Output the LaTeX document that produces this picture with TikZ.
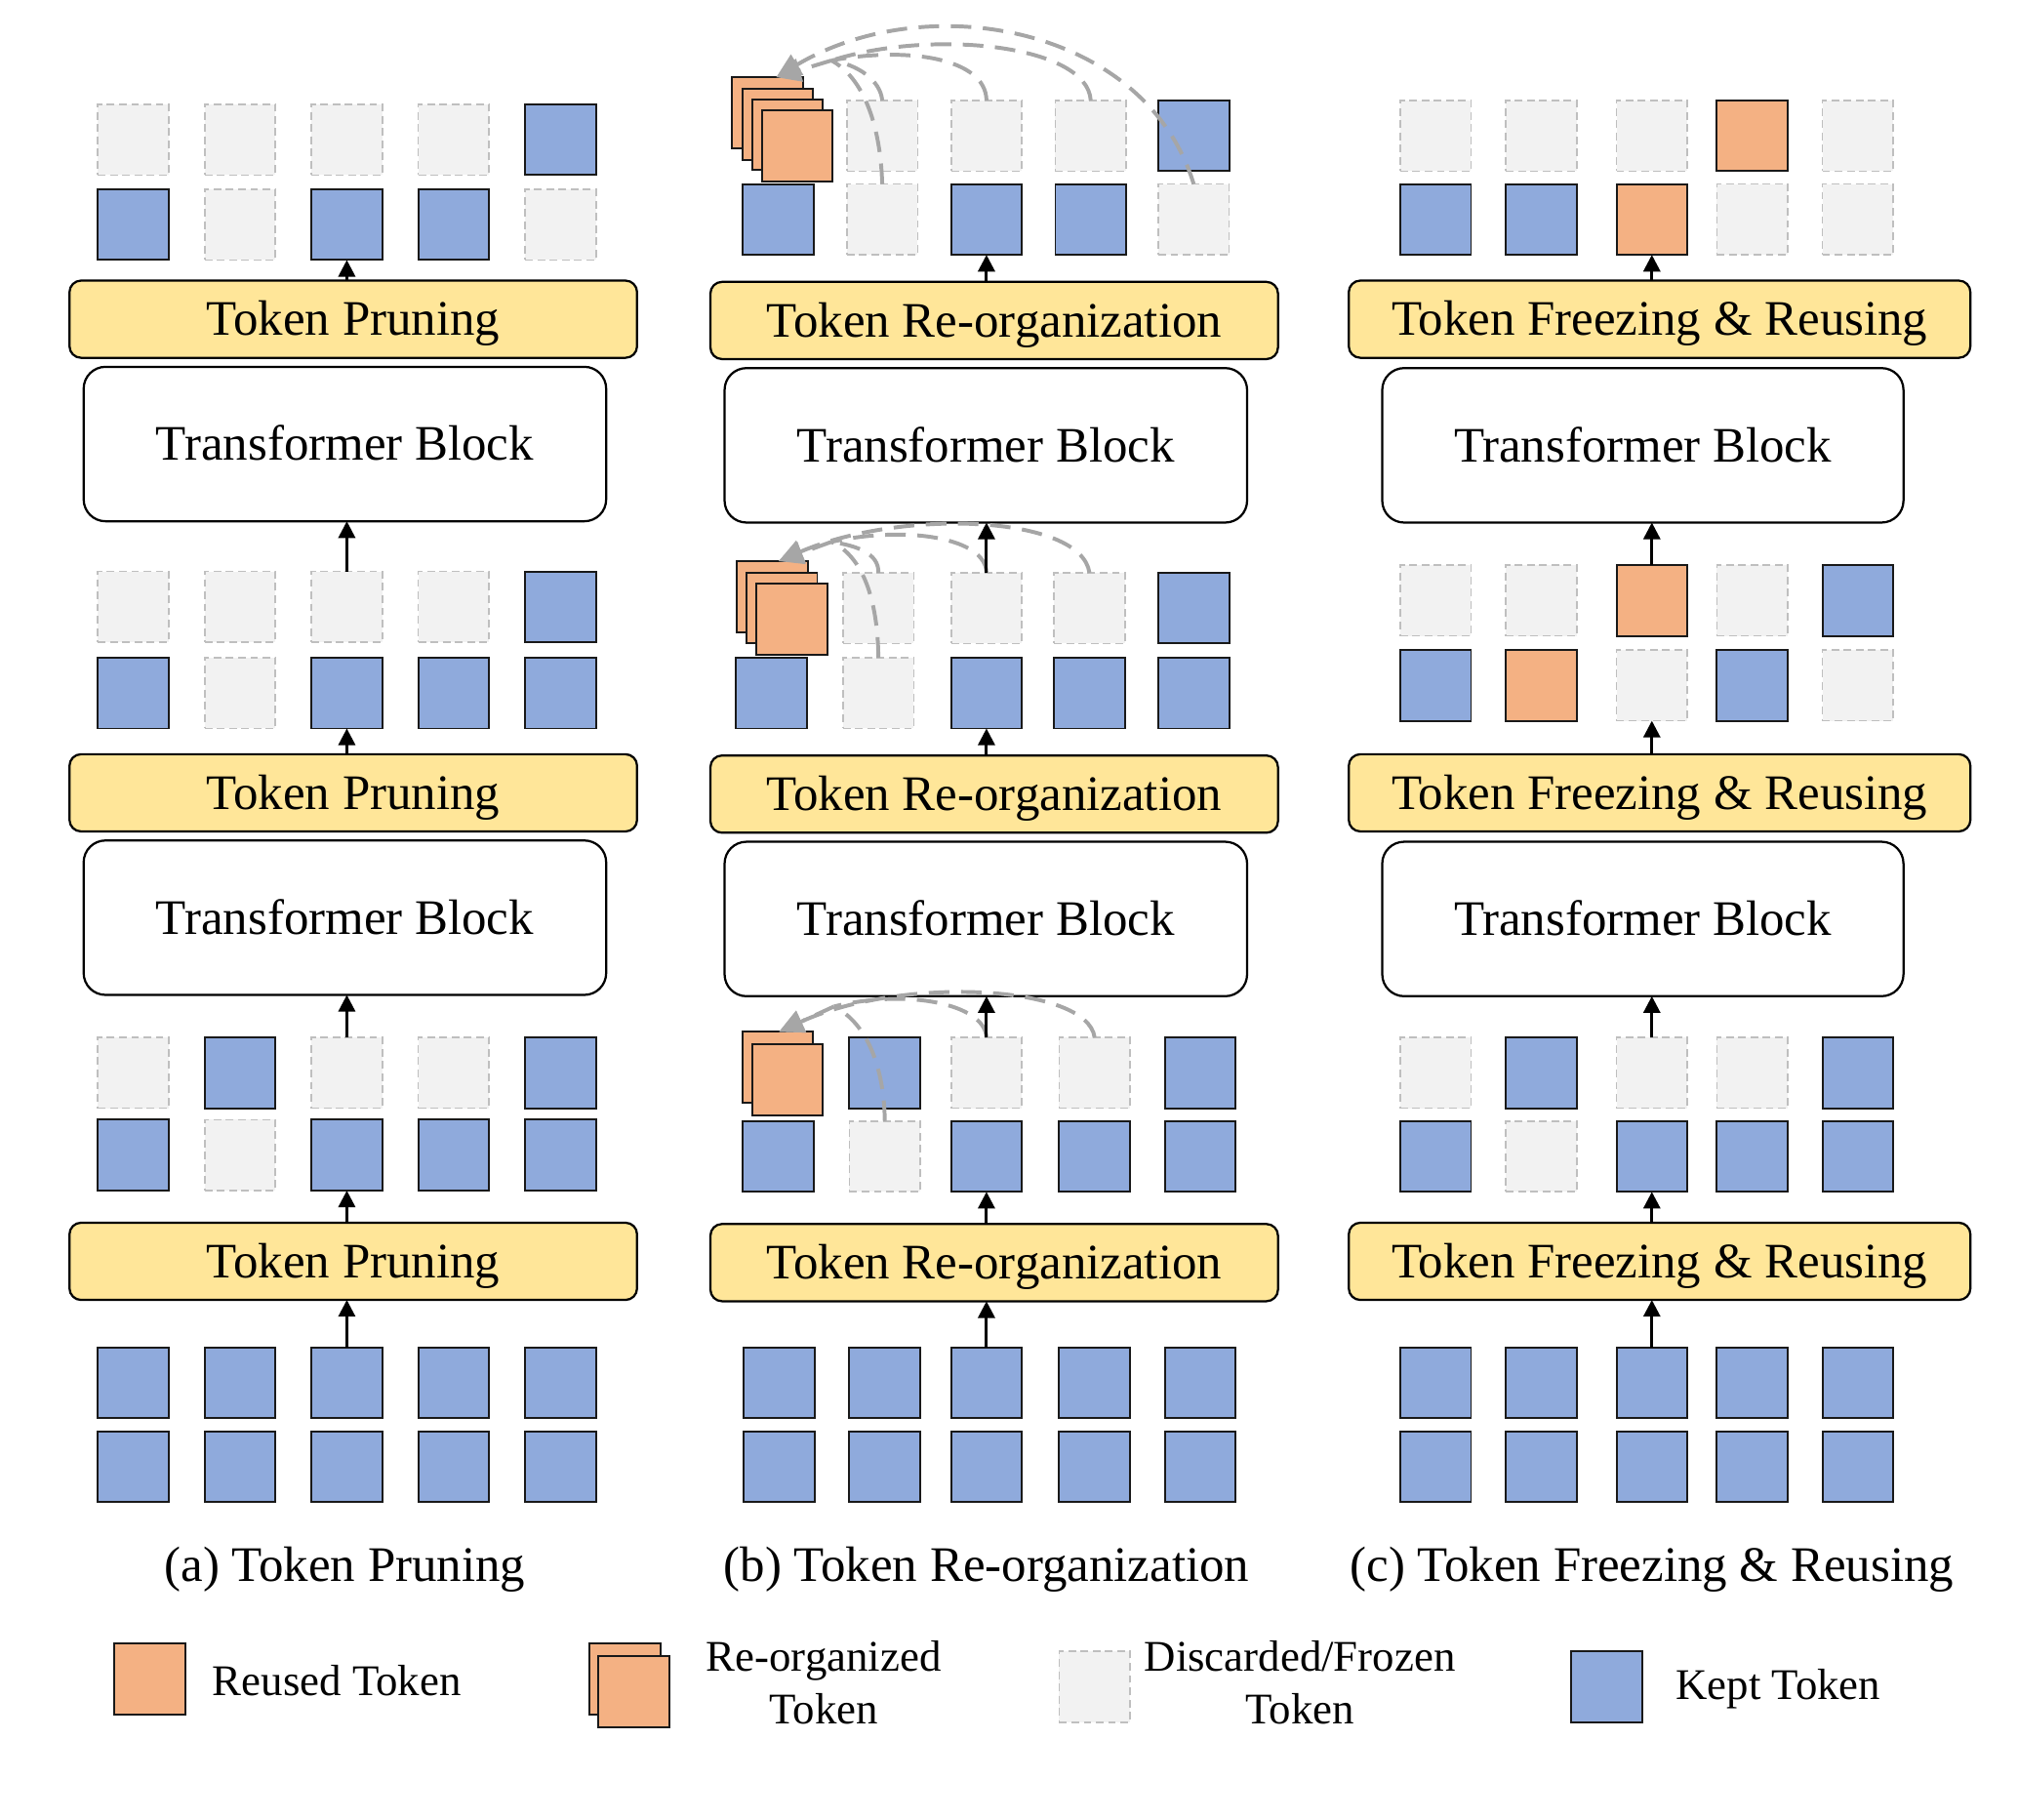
\documentclass[tikz,border=0pt]{standalone}
\usepackage{fontspec}
\setmainfont{Liberation Serif}
\usetikzlibrary{arrows.meta,calc}
\definecolor{kblue}{HTML}{8FAADC}
\definecolor{korange}{HTML}{F4B183}
\definecolor{dfill}{HTML}{F2F2F2}
\definecolor{dline}{HTML}{BFBFBF}
\definecolor{ybox}{HTML}{FFE699}
\definecolor{agray}{HTML}{A6A6A6}
\newcommand{\bigf}{\fontsize{38.6pt}{46pt}\selectfont}
\newcommand{\legf}{\fontsize{34pt}{41pt}\selectfont}
% row of tokens: #1 name prefix, #2 y, #3 list of index/x/style
\newcommand{\tokrow}[3]{%
  \foreach \i/\x/\s in {#3} {%
    \edef\next{\noexpand\node[\s] (#1c\i) at (\x,#2) {};}\next
  }}
\begin{document}
\begin{tikzpicture}[x=1pt,y=-1pt,
  tok/.style={minimum width=55pt,minimum height=55pt,inner sep=0pt,outer sep=0pt,anchor=north west},
  kept/.style={tok,fill=kblue,draw=black!90,line width=1.5pt},
  reuse/.style={tok,fill=korange,draw=black!90,line width=1.5pt},
  dsc/.style={tok,fill=dfill,draw=dline,line width=1.3pt,dash pattern=on 6pt off 3.5pt},
  opbox/.style={anchor=north west,fill=ybox,draw=black,line width=1.7pt,rounded corners=9pt,minimum height=60pt,inner sep=0pt,outer sep=0pt,font=\bigf,text height=25.5pt,text depth=0pt},
  tblock/.style={anchor=north west,fill=white,draw=black,line width=1.7pt,rounded corners=17pt,minimum height=120pt,inner sep=0pt,outer sep=0pt,font=\bigf,text height=25.5pt,text depth=0pt},
  lbl/.style={font=\bigf,inner sep=0pt,text height=25.5pt,text depth=0pt},
  leg/.style={font=\legf,inner sep=0pt,text height=22.5pt,text depth=0pt},
  legtwo/.style={font=\legf,inner sep=0pt,align=center},
  barr/.style={draw=black,line width=2.2pt,-{Triangle[length=13pt,width=13pt]}},
  garr/.style={draw=agray,line width=3pt,dash pattern=on 16pt off 9pt},
  gtip/.style={garr,-{Triangle[length=19pt,width=18pt]}},
]
\useasboundingbox (0,0) rectangle (1568,1413.4);

% ---------------- boxes ----------------
\node[opbox,minimum width=441pt] (aP1) at (54,950) {Token Pruning};
\node[opbox,minimum width=441pt] (aP2) at (54,586) {Token Pruning};
\node[opbox,minimum width=441pt] (aP3) at (54,218) {Token Pruning};
\node[tblock,minimum width=406pt] (aT1) at (65,653) {Transformer Block};
\node[tblock,minimum width=406pt] (aT2) at (65,285) {Transformer Block};

\node[opbox,minimum width=441pt] (bP1) at (552,951) {Token Re-organization};
\node[opbox,minimum width=441pt] (bP2) at (552,587) {Token Re-organization};
\node[opbox,minimum width=441pt] (bP3) at (552,219) {Token Re-organization};
\node[tblock,minimum width=406pt] (bT1) at (563,654) {Transformer Block};
\node[tblock,minimum width=406pt] (bT2) at (563,286) {Transformer Block};

\node[opbox,minimum width=483pt] (cP1) at (1048,950) {Token Freezing \& Reusing};
\node[opbox,minimum width=483pt] (cP2) at (1048,586) {Token Freezing \& Reusing};
\node[opbox,minimum width=483pt] (cP3) at (1048,218) {Token Freezing \& Reusing};
\node[tblock,minimum width=405pt] (cT1) at (1074,654) {Transformer Block};
\node[tblock,minimum width=405pt] (cT2) at (1074,286) {Transformer Block};

% ---------------- column (a) tokens ----------------
\tokrow{a0r1}{1047}{1/76/kept,2/159/kept,3/242/kept,4/325/kept,5/408/kept}
\tokrow{a0r2}{1112}{1/76/kept,2/159/kept,3/242/kept,4/325/kept,5/408/kept}
\tokrow{a1r1}{806}{1/76/dsc,2/159/kept,3/242/dsc,4/325/dsc,5/408/kept}
\tokrow{a1r2}{870}{1/76/kept,2/159/dsc,3/242/kept,4/325/kept,5/408/kept}
\tokrow{a2r1}{444}{1/76/dsc,2/159/dsc,3/242/dsc,4/325/dsc,5/408/kept}
\tokrow{a2r2}{511}{1/76/kept,2/159/dsc,3/242/kept,4/325/kept,5/408/kept}
\tokrow{a3r1}{81}{1/76/dsc,2/159/dsc,3/242/dsc,4/325/dsc,5/408/kept}
\tokrow{a3r2}{147}{1/76/kept,2/159/dsc,3/242/kept,4/325/kept,5/408/dsc}

% ---------------- column (b) tokens ----------------
\tokrow{b0r1}{1047}{1/578/kept,2/660/kept,3/739/kept,4/823/kept,5/905/kept}
\tokrow{b0r2}{1112}{1/578/kept,2/660/kept,3/739/kept,4/823/kept,5/905/kept}
\tokrow{b1r1}{806}{2/660/kept,3/739/dsc,4/823/dsc,5/905/kept}
\tokrow{b1r2}{871}{1/577/kept,2/660/dsc,3/739/kept,4/823/kept,5/905/kept}
\tokrow{b2r1}{445}{2/655/dsc,3/739/dsc,4/819/dsc,5/900/kept}
\tokrow{b2r2}{511}{1/572/kept,2/655/dsc,3/739/kept,4/819/kept,5/900/kept}
\tokrow{b3r1}{78}{2/658/dsc,3/739/dsc,4/820/dsc,5/900/kept}
\tokrow{b3r2}{143}{1/577/kept,2/658/dsc,3/739/kept,4/820/kept,5/900/dsc}
% stacks of re-organized tokens
\node[reuse] (b1s1) at (576.7,801.7) {};
\node[reuse] (b1s2) at (584.3,811.3) {};
\node[reuse] (b2s1) at (572.5,436) {};
\node[reuse] (b2s2) at (580,445) {};
\node[reuse] (b2s3) at (587.6,453.6) {};
\node[reuse] (b3s1) at (569,60) {};
\node[reuse] (b3s2) at (576.7,69) {};
\node[reuse] (b3s3) at (584.3,77) {};
\node[reuse] (b3s4) at (592,86) {};

% ---------------- column (c) tokens ----------------
\tokrow{c0r1}{1047}{1/1088/kept,2/1170/kept,3/1256/kept,4/1334/kept,5/1416/kept}
\tokrow{c0r2}{1112}{1/1088/kept,2/1170/kept,3/1256/kept,4/1334/kept,5/1416/kept}
\tokrow{c1r1}{806}{1/1088/dsc,2/1170/kept,3/1256/dsc,4/1334/dsc,5/1416/kept}
\tokrow{c1r2}{871}{1/1088/kept,2/1170/dsc,3/1256/kept,4/1334/kept,5/1416/kept}
\tokrow{c2r1}{439}{1/1088/dsc,2/1170/dsc,3/1256/reuse,4/1334/dsc,5/1416/kept}
\tokrow{c2r2}{505}{1/1088/kept,2/1170/reuse,3/1256/dsc,4/1334/kept,5/1416/dsc}
\tokrow{c3r1}{78}{1/1088/dsc,2/1170/dsc,3/1256/dsc,4/1334/reuse,5/1416/dsc}
\tokrow{c3r2}{143}{1/1088/kept,2/1170/kept,3/1256/reuse,4/1334/dsc,5/1416/dsc}

% ---------------- gray re-organization arrows ----------------
\coordinate (J1) at (648,782);
\coordinate (J2) at (646,421);
\coordinate (J3) at (646,47);
\coordinate (T1) at ($(b1s1.north west)!0.52!(b1s1.north east)$);
\coordinate (T2) at ($(b2s1.north west)!0.59!(b2s1.north east)$);
\coordinate (T3) at ($(b3s1.north west)!0.62!(b3s1.north east)$);

% lower section
\draw[garr] (b1r2c2.north) .. controls (687,830) and (674,795) .. (J1);
\draw[garr] (b1r1c3.north) .. controls (765,780) and (705,768) .. (J1);
\draw[gtip] (b1r1c4.north) .. controls (845,765) and (700,758) .. (T1);
\draw[gtip] (J1) -- (T1);
% middle section
\draw[garr] (b2r2c2.north) .. controls (682,465) and (670,432) .. (J2);
\draw[garr] (b2r1c2.north) .. controls (683,430) and (666,424) .. (J2);
\draw[garr] (b2r1c3.north) .. controls (766,418) and (705,408) .. (J2);
\draw[gtip] (b2r1c4.north) .. controls (840,400) and (700,395) .. (T2);
\draw[gtip] (J2) -- (T2);
% top section
\draw[garr] (b3r2c2.north) .. controls (684,95) and (670,60) .. (J3);
\draw[garr] (b3r1c2.north) .. controls (684,62) and (666,50) .. (J3);
\draw[garr] (b3r1c3.north) .. controls (766,45) and (705,36) .. (J3);
\draw[garr] (b3r1c4.north) .. controls (845,35) and (725,22) .. (J3);
\draw[gtip] (b3r2c5.north) .. controls (890,20) and (720,-10) .. (T3);
\draw[gtip] (J3) -- (T3);

% ---------------- black flow arrows ----------------
\foreach \c in {a,b,c} {
  \draw[barr] (\c0r1c3.north) -- (\c0r1c3.north |- \c P1.south);
  \draw[barr] (\c1r2c3.south |- \c P1.north) -- (\c1r2c3.south);
  \draw[barr] (\c1r1c3.north) -- (\c1r1c3.north |- \c T1.south);
  \draw[barr] (\c2r2c3.south |- \c P2.north) -- (\c2r2c3.south);
  \draw[barr] (\c2r1c3.north) -- (\c2r1c3.north |- \c T2.south);
  \draw[barr] (\c3r2c3.south |- \c P3.north) -- (\c3r2c3.south);
}

% ---------------- captions ----------------
\node[lbl] (capa) at (268,1216) {(a) Token Pruning};
\node[lbl] (capb) at (766.5,1216) {(b) Token Re-organization};
\node[lbl] (capc) at (1283.5,1216) {(c) Token Freezing \& Reusing};

% ---------------- legend ----------------
\node[reuse] (lg1) at (89,1277) {};
\node[leg,anchor=west] (lt1) at (165,1306) {Reused Token};
\node[reuse] (lg2a) at (458,1277) {};
\node[reuse] (lg2b) at (465,1287) {};
\node[legtwo] (lt2) at (640,1307) {Re-organized\\Token};
\node[dsc] (lg3) at (823,1283) {};
\node[legtwo] (lt3) at (1010,1307) {Discarded/Frozen\\Token};
\node[kept] (lg4) at (1221,1283) {};
\node[leg,anchor=west] (lt4) at (1302,1309) {Kept Token};
\end{tikzpicture}
\end{document}
